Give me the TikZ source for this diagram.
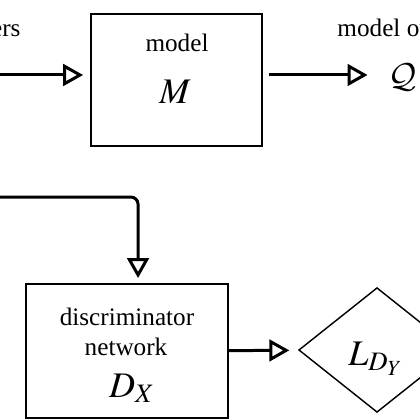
\documentclass[tikz,border=0pt]{standalone}
\usepackage{mathptmx}
\DeclareMathAlphabet{\mathcal}{OMS}{cmsy}{m}{n}
\usepackage[no-math]{fontspec}
\setmainfont{Liberation Serif}
\usepackage{tikz}
\usetikzlibrary{arrows.meta,positioning,shapes.geometric,calc}

\begin{document}
\begin{tikzpicture}[x=0.4167pt,y=-0.4167pt,
    block/.style={draw,line width=0.85pt,inner sep=0pt,outer sep=0pt},
    flow/.style={line width=1.25pt,-{Triangle[open,length=8.3pt,width=9pt,line width=1.25pt]}},
    lossbox/.style={draw,diamond,line width=0.6pt,aspect=1.25,minimum width=65pt,minimum height=51.7pt,inner sep=0pt,outer sep=0pt},
    txt/.style={font=\fontsize{10.5}{12}\selectfont,inner sep=0pt,anchor=base},
    sym/.style={font=\fontsize{15}{18}\selectfont,inner sep=0pt,anchor=base}]
    \path[use as bounding box,clip] (0,0) rectangle (420,420);

    % top row
    \node[block,minimum width=71.2pt,minimum height=55pt] (model) at (176.5,80) {};
    \node[txt] (modeltxt) at (177,52) {model};
    \node[sym] (M) at (175,103) {$M$};
    \coordinate (params) at (-10,75);
    \node[txt,anchor=base east] (paramtxt) at (21,37) {parameters};
    \node[sym] (Q) at (403,88) {$\mathcal{Q}$};
    \node[txt,anchor=base west] (outtxt) at (337,37) {model output};
    \draw[flow,shorten >=3.3pt] (params) -- (params -| model.west);
    \draw[flow,shorten <=2.9pt,shorten >=8.7pt] (params -| model.east) -- (params -| Q.west);

    % bottom row
    \node[block,minimum width=84.2pt,minimum height=55.8pt] (disc) at (127,351) {};
    \node[txt] (disctxt) at (127,325) {discriminator};
    \node[txt] (nettxt) at (126,355) {network};
    \node[sym] (DX) at (132,397) {$D_X$};
    \node[lossbox] (loss) at (377,350) {};
    \node[sym] (Ltxt) at (376,365) {$L_{D_Y}$};
    \coordinate (fb) at (-10,197);
    \draw[flow,rounded corners=3pt,shorten >=2.5pt] (fb) -| ([xshift=4.6pt]disc.north);
    \draw[flow,shorten >=4.2pt] (disc) -- (loss);

\end{tikzpicture}
\end{document}
